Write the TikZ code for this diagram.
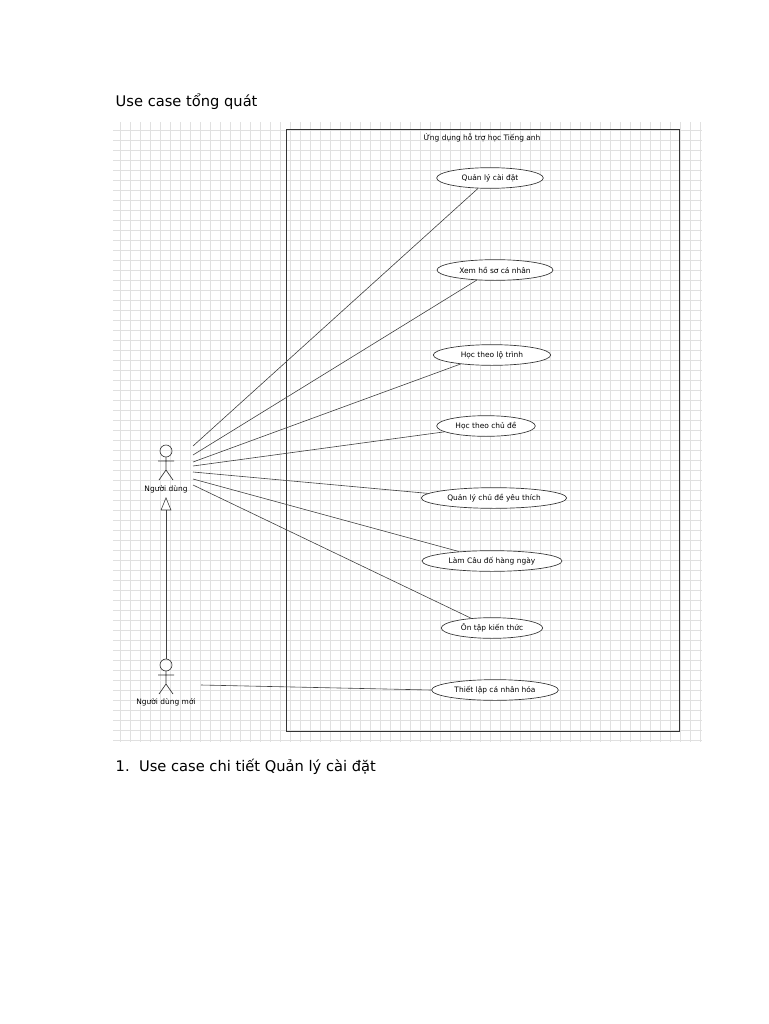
\documentclass[tikz,border=0pt]{standalone}
\usepackage{fontspec}
\setmainfont{DejaVu Sans}
\usetikzlibrary{shapes.geometric}
\usetikzlibrary{arrows.meta, positioning}

\begin{document}
\begin{tikzpicture}[
            x=0.75pt, y=-0.75pt,
            uc/.style={
                ellipse,
                draw=black!80,
                fill=white,
                line width=0.5pt,
                inner sep=0pt,
                minimum height=15.5pt,
                font=\fontsize{5.6}{6}\selectfont
            },
            lbl/.style={font=\fontsize{5.6}{6}\selectfont},
            link/.style={draw=black!75, line width=0.45pt}
        ]
            \useasboundingbox (0,0) rectangle (768,1024);

            % Grid
            \draw[black!12, line width=0.3pt, step=7.5pt] (113,122) grid (702,742);

            % System boundary
            \draw[black!80, line width=0.6pt] (286,129) rectangle (679,731);
            \node[lbl] (systitle) at (482,138) {Ứng dụng hỗ trợ học Tiếng anh};

            % Use cases
            \node[uc, minimum width=80pt] (caidat) at (490,178) {Quản lý cài đặt};
            \node[uc, minimum width=87pt] (hoso) at (495,270) {Xem hồ sơ cá nhân};
            \node[uc, minimum width=88pt] (lotrinh) at (492,355) {Học theo lộ trình};
            \node[uc, minimum width=74pt] (chude) at (486,426) {Học theo chủ đề};
            \node[uc, minimum width=109pt] (yeuthich) at (494,498) {Quản lý chủ đề yêu thích};
            \node[uc, minimum width=105pt] (caudo) at (492,561) {Làm Câu đố hàng ngày};
            \node[uc, minimum width=76pt] (ontap) at (492,628) {Ôn tập kiến thức};
            \node[uc, minimum width=95pt] (canhan) at (495,690) {Thiết lập cá nhân hóa};

            % Actors
            \foreach \name/\y in {user/451, newuser/665} {
                \draw[black!80, line width=0.5pt] (166,\y) circle (4.5pt)
                    (166,\y+6) -- (166,\y+19)
                    (158,\y+10) -- (174,\y+10)
                    (166,\y+19) -- (159,\y+29)
                    (166,\y+19) -- (173,\y+29);
                \coordinate (\name head) at (166,\y-6);
            }
            \node[lbl] (userlbl) at (166,489) {Người dùng};
            \node[lbl] (newuserlbl) at (166,702) {Người dùng mới};

            \coordinate (u1) at (193,446);
            \coordinate (u2) at (193,455);
            \coordinate (u3) at (193,462);
            \coordinate (u4) at (193,466);
            \coordinate (u5) at (193,472);
            \coordinate (u6) at (193,479);
            \coordinate (u7) at (193,485);
            \coordinate (nu) at (201,685);
            \coordinate (gentip) at (166,497);

            % Associations
            \draw[link] (u1) -- (caidat.-139);
            \draw[link] (u2) -- (hoso.-151);
            \draw[link] (u3) -- (lotrinh.-164);
            \draw[link] (u4) -- (chude.-172);
            \draw[link] (u5) -- (yeuthich.176);
            \draw[link] (u6) -- (caudo.164);
            \draw[link] (u7) -- (ontap.155);
            \draw[link] (nu) -- (canhan.west);

            % Generalization
            \draw[link, -{Triangle[open, length=10pt, width=8pt]}] (newuserhead) -- (gentip);

            % Page text
            \node[anchor=west, font=\fontsize{11}{13}\selectfont] (title) at (111,102) {Use case tổng quát};
            \node[anchor=west, font=\fontsize{11}{13}\selectfont] (section) at (111,767) {1.\ \ Use case chi tiết Quản lý cài đặt};
        \end{tikzpicture}
\end{document}
